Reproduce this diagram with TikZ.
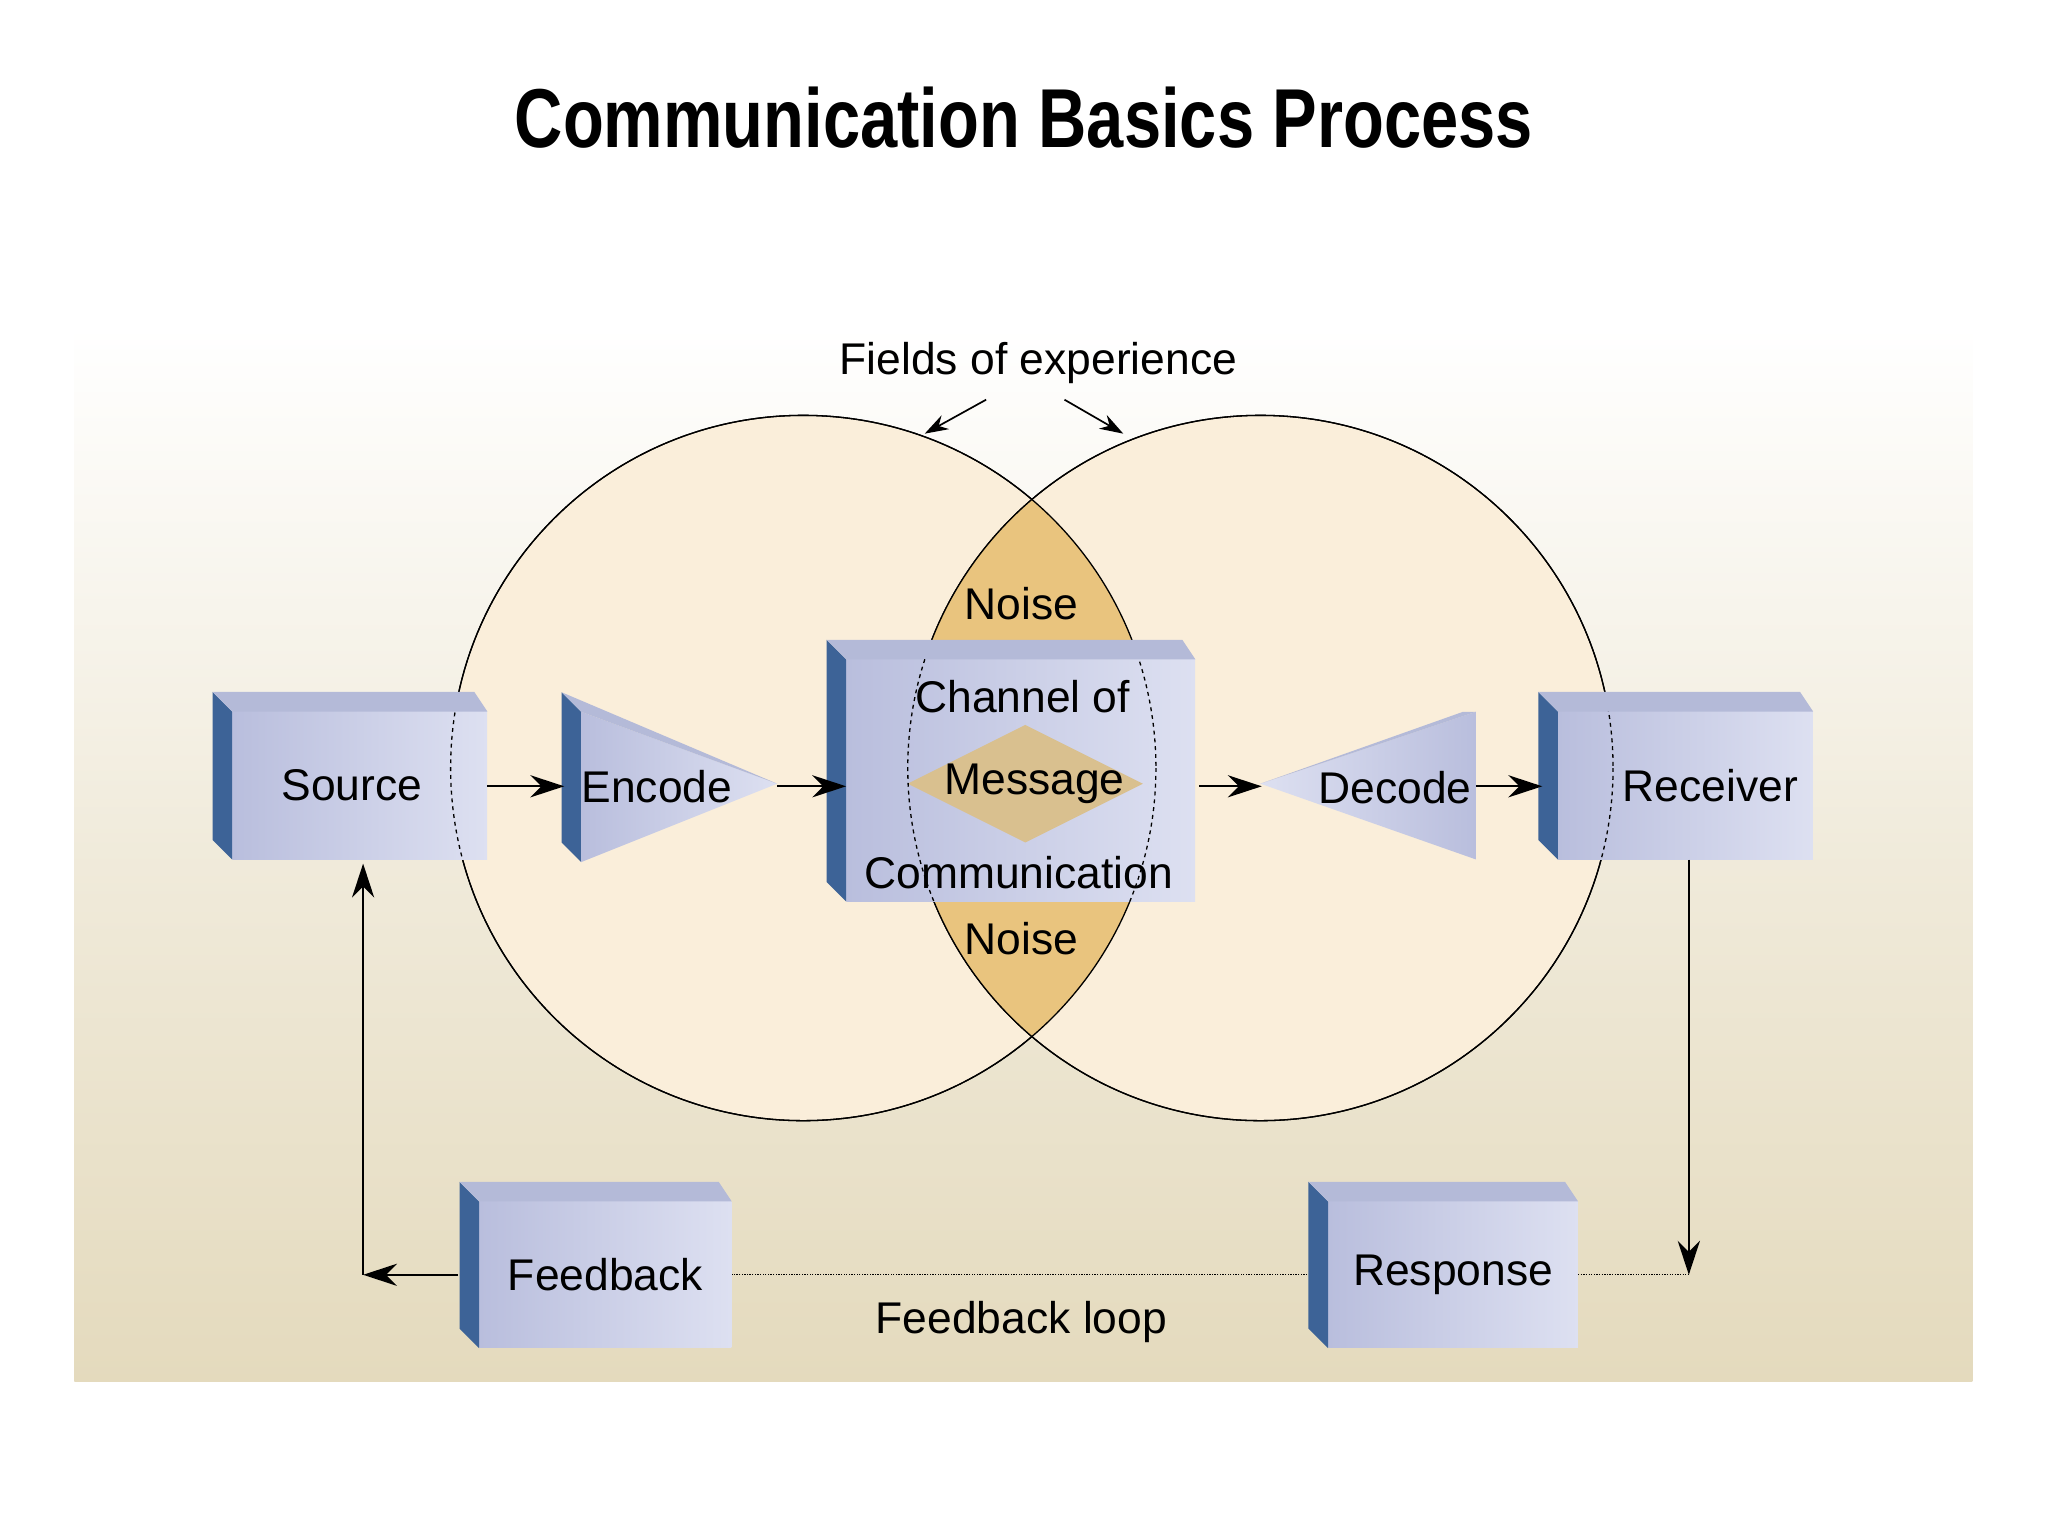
\documentclass[tikz,border=0pt]{standalone}
\usepackage{fontspec}
\setmainfont{Liberation Sans}
\newfontfamily\titlefont{Liberation Sans}[FakeStretch=0.8,BoldFeatures={FakeStretch=0.8}]
\usetikzlibrary{arrows.meta,calc}
\definecolor{cream}{HTML}{FAEEDA}
\definecolor{lens}{HTML}{E9C47E}
\definecolor{sidec}{HTML}{3D6397}
\definecolor{topc}{HTML}{B4BAD8}
\definecolor{bgb}{HTML}{E4DABD}
\definecolor{diam}{HTML}{D9C08F}
\definecolor{fl}{HTML}{B9BEDD}
\definecolor{fr}{HTML}{DDE0F1}
\tikzset{
 box/.style={rectangle, left color=fl, right color=fr, inner sep=0pt, font=\fontsize{34}{38}\selectfont},
 lbl/.style={font=\fontsize{34}{38}\selectfont, inner sep=1pt},
 arr/.style={-{Stealth[length=26pt,width=17pt]}, line width=1.3pt},
 thin/.style={line width=1pt},
}
\newcommand\tdbox[5]{%
 \node[box, minimum width=#3pt, minimum height=#4pt] (#1) at #2 {#5};
 \fill[sidec] (#1.north west) -- ++(-15,-15) -- ($(#1.south west)+(-15pt,15pt)$) -- (#1.south west) -- cycle;
 \fill[topc] (#1.north west) -- ++(-15,-15) -- ($(#1.north east)+(-10pt,15pt)$) -- (#1.north east) -- cycle;
}
\begin{document}
\begin{tikzpicture}[x=1pt,y=-1pt]
\useasboundingbox[fill=white] (0,0) rectangle (1568,1176);
\shade[top color=white, bottom color=bgb, middle color=bgb!55] (57,250) rectangle (1510,1058);
\node[font=\titlefont\bfseries\fontsize{64}{68}\selectfont] (title) at (784,90) {Communication Basics Process};
% circles
\node[circle, draw, thin, fill=cream, minimum size=540pt, inner sep=0pt] (L) at (615,588) {};
\node[circle, draw, thin, fill=cream, minimum size=540pt, inner sep=0pt] (R) at (965,588) {};
\begin{scope}
 \clip (615,588) circle[radius=270];
 \fill[lens] (965,588) circle[radius=270];
\end{scope}
\draw[thin] (615,588) circle[radius=270];
\draw[thin] (965,588) circle[radius=270];
\node[lbl] (fields) at (795,278) {Fields of experience};
\draw[arr, -{Stealth[length=18pt,width=12pt]}] (755,306) -- (708,332);
\draw[arr, -{Stealth[length=18pt,width=12pt]}] (815,306) -- (860,332);
\node[lbl] (noise1) at (782,462) {Noise};
\node[lbl] (noise2) at (782,719) {Noise};
% boxes
\tdbox{source}{(275.5,601.5)}{195}{113}{\hspace*{-12pt}Source}
\tdbox{receiver}{(1290.5,601.5)}{195}{113}{\hspace*{38pt}Receiver}
\tdbox{feedback}{(463.5,976)}{193}{112}{Feedback}
\tdbox{response}{(1112.5,976)}{191}{112}{Response}
\tdbox{channel}{(781.5,597.5)}{267}{185}{}
\fill[diam] (695,600) -- (785,555) -- (875,600) -- (785,645) -- cycle;
\node[lbl] (message) at (792,600) {Message};
\node[lbl] (chtop) at (783,533) {Channel of};
\node[lbl] (chbot) at (780,668) {Communication};
% encode
\fill[sidec] (430,530) -- (445,545) -- (445,660) -- (430,645) -- cycle;
\shade[left color=fl, right color=fr] (445,545) -- (595,600) -- (445,660) -- cycle;
\fill[topc] (430,530) -- (445,545) -- (595,600) -- cycle;
\node[lbl] (encode) at (503,602) {Encode};
% decode
\shade[left color=fr, right color=fl] (965,600) -- (1130,545) -- (1130,658) -- cycle;
\fill[topc] (965,600) -- (1120,545) -- (1130,545) -- cycle;
\node[lbl] (decode) at (1068,603) {Decode};
% dashed circle parts
\begin{scope}
 \clip (source.south west) rectangle (source.north east);
 \draw[thin, dashed] (615,588) circle[radius=270];
\end{scope}
\begin{scope}
 \clip (receiver.south west) rectangle (receiver.north east);
 \draw[thin, dashed] (965,588) circle[radius=270];
\end{scope}
\begin{scope}
 \clip (channel.south west) rectangle (channel.north east);
 \draw[thin, dashed] (615,588) circle[radius=270];
 \draw[thin, dashed] (965,588) circle[radius=270];
\end{scope}
% arrows
\coordinate (encL) at (432,602);
\coordinate (encR) at (595,602);
\coordinate (decL) at (966,602);
\coordinate (decR) at (1130,602);
\draw[arr] (source.east |- encL) -- (encL);
\draw[arr] (encR) -- (channel.west |- encR);
\draw[arr] (channel.east |- decL) ++(3,0) -- (decL);
\draw[arr] (decR) -- ($(receiver.west |- decR)+(-12,0)$);
\coordinate (rc) at (1293,976);
\draw[arr] (receiver.south -| rc) -- (rc);
\draw[thin, densely dotted] (response.east) -- (rc);
\draw[thin, densely dotted] (response.west) ++(-16,0) -- (feedback.east);
\coordinate (lc) at (278,976);
\draw[arr] ($(feedback.west)+(-16,0)$) -- (lc);
\draw[arr] (lc) -- ($(lc |- source.south)+(0,3)$);
\node[lbl] (loop) at (782,1012) {Feedback loop};
\end{tikzpicture}
\end{document}
